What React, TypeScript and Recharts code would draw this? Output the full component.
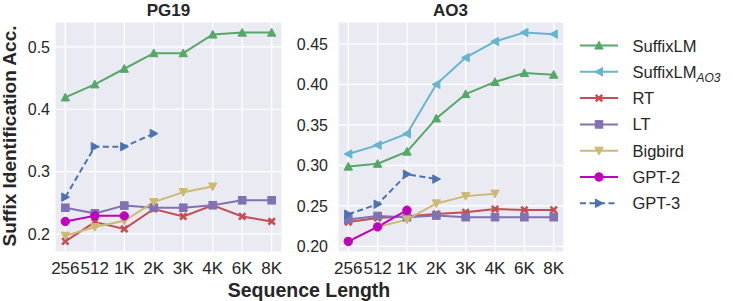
import { CartesianGrid, Line, LineChart, XAxis, YAxis } from 'recharts';

const lengths = ['256', '512', '1K', '2K', '3K', '4K', '6K', '8K'];

// PG19
const pgSuffixLM = [0.419, 0.44, 0.465, 0.49, 0.49, 0.52, 0.523, 0.523];
const pgRT = [0.188, 0.219, 0.208, 0.24, 0.228, 0.246, 0.228, 0.22];
const pgLT = [0.242, 0.233, 0.2455, 0.242, 0.242, 0.246, 0.254, 0.254];
const pgBigbird = [0.197, 0.211, 0.221, 0.251, 0.267, 0.276, null, null];
const pgGPT2 = [0.22, 0.229, 0.229, null, null, null, null, null];
const pgGPT3 = [0.259, 0.34, 0.34, 0.361, null, null, null, null];

// AO3
const aoSuffixLM = [0.2985, 0.302, 0.317, 0.358, 0.388, 0.403, 0.414, 0.412];
const aoSuffixLMAO3 = [0.314, 0.325, 0.339, 0.4, 0.433, 0.453, 0.464, 0.462];
const aoRT = [0.23, 0.235, 0.237, 0.24, 0.242, 0.246, 0.245, 0.245];
const aoLT = [0.233, 0.2375, 0.236, 0.238, 0.236, 0.236, 0.236, 0.236];
const aoBigbird = [0.206, 0.224, 0.233, 0.253, 0.262, 0.265, null, null];
const aoGPT2 = [0.206, 0.224, 0.2446, null, null, null, null, null];
const aoGPT3 = [0.2396, 0.252, 0.289, 0.283, null, null, null, null];

const pgTicks = [0.2, 0.3, 0.4, 0.5];
const aoTicks = [0.2, 0.25, 0.3, 0.35, 0.4, 0.45];

const FONT = '"Liberation Sans", Arial, sans-serif';
const INK = '#262626';

type Shape = 'up' | 'left' | 'x' | 'square' | 'down' | 'circle' | 'right';
const series: { key: string; name: string; color: string; shape: Shape; dashed?: boolean }[] = [
  { key: 'suffix', name: 'SuffixLM', color: '#55A868', shape: 'up' },
  { key: 'suffixAO3', name: 'SuffixLM', color: '#64B5CD', shape: 'left' },
  { key: 'rt', name: 'RT', color: '#C44E52', shape: 'x' },
  { key: 'lt', name: 'LT', color: '#8172B2', shape: 'square' },
  { key: 'bigbird', name: 'Bigbird', color: '#CCB974', shape: 'down' },
  { key: 'gpt2', name: 'GPT-2', color: '#BF00BF', shape: 'circle' },
  { key: 'gpt3', name: 'GPT-3', color: '#4C72B0', shape: 'right', dashed: true },
];

const pgRows = lengths.map((_, i) => ({
  x: i,
  suffix: pgSuffixLM[i],
  rt: pgRT[i],
  lt: pgLT[i],
  bigbird: pgBigbird[i],
  gpt2: pgGPT2[i],
  gpt3: pgGPT3[i],
}));

const aoRows = lengths.map((_, i) => ({
  x: i,
  suffix: aoSuffixLM[i],
  suffixAO3: aoSuffixLMAO3[i],
  rt: aoRT[i],
  lt: aoLT[i],
  bigbird: aoBigbird[i],
  gpt2: aoGPT2[i],
  gpt3: aoGPT3[i],
}));

function Marker({ shape, cx, cy, color }: { shape: Shape; cx: number; cy: number; color: string }) {
  const s = 4.2;
  switch (shape) {
    case 'up':
      return <polygon points={`${cx},${cy - s} ${cx - s},${cy + s * 0.85} ${cx + s},${cy + s * 0.85}`} fill={color} stroke={color} />;
    case 'down':
      return <polygon points={`${cx},${cy + s} ${cx - s},${cy - s * 0.85} ${cx + s},${cy - s * 0.85}`} fill={color} stroke={color} />;
    case 'left':
      return <polygon points={`${cx - s},${cy} ${cx + s * 0.85},${cy - s} ${cx + s * 0.85},${cy + s}`} fill={color} stroke={color} />;
    case 'right':
      return <polygon points={`${cx + s},${cy} ${cx - s * 0.85},${cy - s} ${cx - s * 0.85},${cy + s}`} fill={color} stroke={color} />;
    case 'square':
      return <rect x={cx - 3.8} y={cy - 3.8} width={7.6} height={7.6} fill={color} stroke={color} />;
    case 'circle':
      return <circle cx={cx} cy={cy} r={4.2} fill={color} stroke={color} />;
    case 'x':
      return (
        <path
          d={`M${cx - 3.2},${cy - 3.2}L${cx + 3.2},${cy + 3.2}M${cx - 3.2},${cy + 3.2}L${cx + 3.2},${cy - 3.2}`}
          stroke={color}
          strokeWidth={2.6}
          fill='none'
        />
      );
  }
}

function Panel({ rows, keys, domain, ticks, fmt, left, yWidth, tickGap }: any) {
  return (
    <div style={{ position: 'absolute', left, top: 0 }}>
      <LineChart width={290} height={301} data={rows} margin={{ top: 22, right: 8, left: 0, bottom: 19 }}>
        <CartesianGrid fill='#EAEAF2' stroke='#FFFFFF' strokeWidth={1.2} />
        <XAxis
          dataKey='x'
          type='number'
          domain={[-0.35, 7.35]}
          ticks={[0, 1, 2, 3, 4, 5, 6, 7]}
          tickFormatter={(v: number) => lengths[v]}
          axisLine={false}
          tickLine={false}
          tickSize={0}
          tickMargin={10}
          height={30}
          interval={0}
          allowDataOverflow
          tick={{ fill: INK, fontSize: 17, fontFamily: FONT }}
        />
        <YAxis
          type='number'
          domain={domain}
          ticks={ticks}
          tickFormatter={fmt}
          axisLine={false}
          tickLine={false}
          tickSize={0}
          tickMargin={tickGap}
          width={yWidth}
          allowDataOverflow
          tick={{ fill: INK, fontSize: 16, fontFamily: FONT }}
        />
        {series
          .filter((s) => keys.includes(s.key))
          .map((s) => (
            <Line
              key={s.key}
              dataKey={s.key}
              stroke={s.color}
              strokeWidth={2}
              strokeDasharray={s.dashed ? '6 3.5' : undefined}
              isAnimationActive={false}
              activeDot={false}
              dot={(p: any) =>
                p.cx == null || p.cy == null || p.value == null ? (
                  <g key={p.index} />
                ) : (
                  <g key={p.index}>
                    <Marker shape={s.shape} cx={p.cx} cy={p.cy} color={s.color} />
                  </g>
                )
              }
            />
          ))}
      </LineChart>
    </div>
  );
}

export default function App() {
  return (
    <div style={{ position: 'absolute', left: 0, top: 0, width: 733, height: 301, background: '#fff', fontFamily: FONT }}>
      <Panel
        rows={pgRows}
        keys={['suffix', 'rt', 'lt', 'bigbird', 'gpt2', 'gpt3']}
        domain={[0.171, 0.54]}
        ticks={pgTicks}
        fmt={(v: number) => v.toFixed(1)}
        left={0}
        yWidth={55}
        tickGap={5}
      />
      <Panel
        rows={aoRows}
        keys={['suffix', 'suffixAO3', 'rt', 'lt', 'bigbird', 'gpt2', 'gpt3']}
        domain={[0.193, 0.477]}
        ticks={aoTicks}
        fmt={(v: number) => v.toFixed(2)}
        left={282}
        yWidth={56}
        tickGap={10}
      />
      <svg width={733} height={301} style={{ position: 'absolute', left: 0, top: 0, pointerEvents: 'none' }}>
        <text x={168.5} y={15.5} textAnchor='middle' fontSize={17} fontWeight='bold' fill={INK} fontFamily={FONT}>
          PG19
        </text>
        <text x={450.5} y={15.5} textAnchor='middle' fontSize={17} fontWeight='bold' fill={INK} fontFamily={FONT}>
          AO3
        </text>
        <text
          transform='translate(16,136) rotate(-90)'
          textAnchor='middle'
          fontSize={19}
          fontWeight='bold'
          fill={INK}
          fontFamily={FONT}
        >
          Suffix Identification Acc.
        </text>
        <text x={309} y={296.5} textAnchor='middle' fontSize={19.5} fontWeight='bold' fill={INK} fontFamily={FONT}>
          Sequence Length
        </text>
        {series.map((s, i) => {
          const y = 45.5 + i * 26.3;
          return (
            <g key={s.key}>
              <line x1={580} x2={618} y1={y} y2={y} stroke={s.color} strokeWidth={2} strokeDasharray={s.dashed ? '6 3.5' : undefined} />
              <Marker shape={s.shape} cx={599} cy={y} color={s.color} />
              <text x={632.5} y={y + 6} fontSize={16.5} fill={INK} fontFamily={FONT}>
                {s.name}
                {s.key === 'suffixAO3' && (
                  <tspan fontSize={12} fontStyle='italic' dy={4}>
                    AO3
                  </tspan>
                )}
              </text>
            </g>
          );
        })}
      </svg>
    </div>
  );
}
